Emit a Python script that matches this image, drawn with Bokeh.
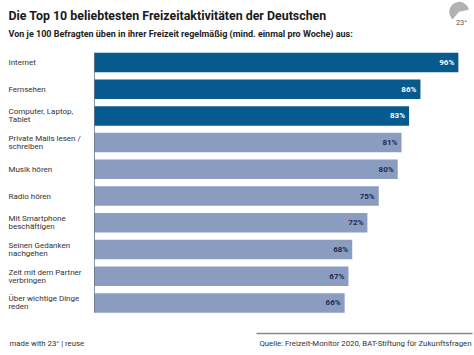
from bokeh.plotting import figure
from bokeh.models import Range1d, ColumnDataSource, Label
from bokeh.core.properties import value
from bokeh.embed import file_html
from bokeh.resources import INLINE

categories = ["Internet", "Fernsehen", "Computer, Laptop,\nTablet", "Private Mails lesen /\nschreiben",
              "Musik hören", "Radio hören", "Mit Smartphone\nbeschäftigen", "Seinen Gedanken\nnachgehen",
              "Zeit mit dem Partner\nverbringen", "Über wichtige Dinge\nreden"]
values = [96, 86, 83, 81, 80, 75, 72, 68, 67, 66]
highlight = [True, True, True, False, False, False, False, False, False, False]

DARK = "#075a8e"
LIGHT = "#8a9cc0"

n = len(values)
src = ColumnDataSource(dict(
    y=list(range(n)),
    v=values,
    cat=categories,
    lab=[f"{v}%" for v in values],
    color=[DARK if h else LIGHT for h in highlight],
    tcolor=["#ffffff" if h else "#1d2a4c" for h in highlight],
))

W, H = 474, 355
p = figure(width=W, height=H, output_backend="svg", toolbar_location=None,
           x_range=Range1d(-24.8, 100.26), y_range=Range1d(10.97, -2.32),
           min_border=0, min_border_left=0, min_border_right=0, min_border_top=0, min_border_bottom=0)
p.axis.visible = False
p.grid.visible = False
p.outline_line_color = None
p.background_fill_color = "white"
p.border_fill_color = "white"

p.hbar(y="y", right="v", left=0, height=0.73, source=src, fill_color="color", line_color=None)
p.segment(x0=0, x1=0, y0=-0.37, y1=n - 1 + 0.37, line_color="#3a4a60", line_width=1, line_alpha=0.6)

p.text(x="v", y="y", text="lab", source=src, text_align="right", text_baseline="middle",
       x_offset=-4, text_font=value("Roboto"), text_font_style="bold", text_font_size="8px",
       text_color="tcolor")
p.text(x=-22.7, y="y", text="cat", source=src, text_align="left", text_baseline="middle",
       text_font=value("Roboto"), text_font_size="8px", text_color="#333333", text_line_height=0.9)

def lab(x, y, t, size, bold=False, color="#222222", align="left"):
    p.add_layout(Label(x=x, y=H - y, x_units="screen", y_units="screen", text=t,
                       text_font="Roboto", text_font_size=size,
                       text_font_style="bold" if bold else "normal", text_color=color,
                       text_align=align, text_baseline="middle"))

lab(8, 15, "Die Top 10 beliebtesten Freizeitaktivitäten der Deutschen", "12.4px", True, "#1a1a1a")
lab(8, 33, "Von je 100 Befragten üben in ihrer Freizeit regelmäßig (mind. einmal pro Woche) aus:", "9px", True, "#222222")
lab(9, 343, "made with 23° | reuse", "7.8px", False, "#333333")
lab(471, 343, "Quelle: Freizeit-Monitor 2020, BAT-Stiftung für Zukunftsfragen", "7.8px", False, "#333333", "right")
lab(461, 22, "23°", "7.5px", False, "#555555", "center")

p.wedge(x=[96.2], y=[-1.9], radius=2.6, start_angle=0.2, end_angle=4.0, fill_color="#888888", line_color=None, fill_alpha=0.65)

yline = (333 - 62) / 26.7
p.segment(x0=[(256 - 94) / 3.79], x1=[(472 - 94) / 3.79], y0=[yline], y1=[yline], line_color="#888888", line_width=1.5)

open("out.html", "w").write(file_html(p, INLINE))
